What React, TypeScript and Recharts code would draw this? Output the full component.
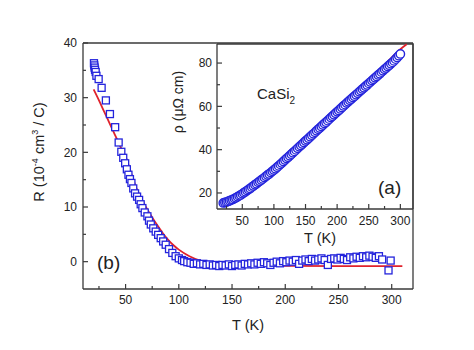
import React from "react"
import { ComposedChart, Scatter, Line, XAxis, YAxis, Label, ReferenceLine } from "recharts"

// main panel (b): Hall coefficient vs temperature
const hallT = [
  20.3, 20.6, 20.9, 21.3, 21.9, 22.6, 24.7, 27.5, 31.5, 35.3, 40.2, 43.5, 46.0, 47.8, 49.6, 51.2,
  52.7, 54.1, 55.5, 57.2, 58.9, 60.8, 62.7, 64.2, 65.8, 68.0, 70.5, 72.0, 73.7, 76.0, 78.3, 80.6,
  83.0, 85.3, 87.7, 90.8, 93.9, 97.0, 100, 103, 105, 108, 111, 114, 117, 120, 123, 126, 129, 132,
  135, 138, 141, 144, 147, 150, 153, 156, 159, 162, 165, 168, 171, 174, 177, 180, 183, 186, 189,
  192, 195, 198, 201, 204, 207, 210, 213, 216, 219, 222, 225, 228, 231, 234, 237, 240, 243, 246,
  249, 252, 255, 258, 261, 264, 267, 270, 273, 276, 279, 282, 285, 288, 291, 297, 299,
]
const hallR = [
  36.3, 35.9, 35.5, 35.1, 34.7, 34.0, 33.4, 31.8, 29.5, 27.0, 24.6, 21.8, 20.1, 19.0, 18.0, 16.9,
  15.9, 15.1, 14.4, 13.4, 12.5, 11.9, 11.3, 10.5, 9.8, 9.0, 8.3, 7.5, 6.8, 6.1, 5.5, 4.9,
  4.3, 3.7, 3.1, 2.3, 1.6, 1.0, 0.6, 0.3, 0.1, -0.1, -0.2, -0.4, -0.3, -0.5, -0.4, -0.6, -0.5, -0.7,
  -0.6, -0.8, -0.6, -0.7, -0.5, -0.8, -0.6, -0.5, -0.7, -0.4, -0.5, -0.3, -0.5, -0.2, -0.4, -0.1, -0.3, -0.6, -0.2,
  0.0, -0.3, 0.1, -0.1, 0.2, 0.0, 0.3, -0.4, 0.2, 0.4, 0.1, 0.5, 0.2, 0.4, 0.6, 0.3, -0.6, 0.5, 0.6,
  0.4, 0.7, 0.5, 0.3, 0.8, 0.6, 0.9, 0.7, 1.0, 0.8, 1.1, 0.9, 0.7, 1.0, 0.4, -1.6, 0.2,
]
const hallFitT = [20, 25, 30, 35, 40, 45, 50, 55, 60, 65, 70, 75, 80, 85, 90, 95, 100, 110, 120, 130, 140, 150, 170, 200, 250, 310]
const hallFitR = [31.5, 29.5, 27.4, 25.3, 23.2, 21.1, 19.2, 16.3, 13.5, 11.5, 9.7, 8.1, 6.6, 5.2, 4.0, 3.0, 2.2, 1.0, 0.2, -0.3, -0.5, -0.6, -0.7, -0.75, -0.8, -0.8]

// inset (a): resistivity vs temperature
const rhoT = [
  20, 22.5, 25, 27.5, 30, 32.5, 35, 37.5, 40, 42.5, 45, 47.5, 50, 52.5, 55, 57.5, 60, 62.5, 65, 67.5,
  70, 72.5, 75, 77.5, 80, 82.5, 85, 87.5, 90, 92.5, 95, 97.5, 100, 102.5, 105, 107.5, 110, 112.5,
  115, 117.5, 120, 122.5, 125, 127.5, 130, 132.5, 135, 137.5, 140, 142.5, 145, 147.5, 150, 152.5,
  155, 157.5, 160, 162.5, 165, 167.5, 170, 172.5, 175, 177.5, 180, 182.5, 185, 187.5, 190, 192.5,
  195, 197.5, 200, 202.5, 205, 207.5, 210, 212.5, 215, 217.5, 220, 222.5, 225, 227.5, 230, 232.5,
  235, 237.5, 240, 242.5, 245, 247.5, 250, 252.5, 255, 257.5, 260, 262.5, 265, 267.5, 270, 272.5,
  275, 277.5, 280, 282.5, 285, 287.5, 290, 292.5, 295, 297.5, 300,
]
const rhoV = [
  15.4, 15.6, 15.8, 16.1, 16.4, 16.7, 17.0, 17.4, 17.8, 18.2, 18.7, 19.1, 19.6, 20.1, 20.6, 21.1, 21.6, 22.1, 22.7, 23.2,
  23.8, 24.3, 24.9, 25.4, 26.0, 26.5, 27.1, 27.7, 28.3, 28.8, 29.4, 30.0, 30.6, 31.2, 31.9, 32.5, 33.2, 33.8,
  34.5, 35.2, 35.9, 36.5, 37.2, 37.9, 38.6, 39.2, 39.9, 40.6, 41.3, 41.9, 42.6, 43.3, 44.0, 44.6,
  45.3, 46.0, 46.7, 47.3, 48.0, 48.7, 49.4, 50.0, 50.7, 51.4, 52.1, 52.7, 53.4, 54.1, 54.8, 55.4,
  56.1, 56.8, 57.5, 58.1, 58.8, 59.5, 60.2, 60.8, 61.5, 62.1, 62.8, 63.4, 64.1, 64.7, 65.4, 66.0,
  66.7, 67.3, 68.0, 68.6, 69.3, 69.9, 70.6, 71.2, 71.9, 72.5, 73.2, 73.8, 74.5, 75.1, 75.8, 76.4,
  77.1, 77.7, 78.4, 79.0, 79.7, 80.3, 81.0, 81.8, 82.6, 83.4, 84.2,
]
const rhoFitT = [22, 30, 40, 50, 60, 70, 80, 90, 100, 120, 140, 160, 180, 200, 220, 240, 260, 280, 300, 310]
const rhoFitV = [14.0, 14.7, 16.0, 17.8, 19.8, 22.0, 24.3, 26.6, 28.9, 34.1, 39.5, 45.0, 50.8, 56.8, 62.8, 68.8, 74.7, 80.6, 86.4, 88.7]

const mainXTicks = [25, 50, 75, 100, 125, 150, 175, 200, 225, 250, 275, 300]
const mainYTicks = [0, 5, 10, 15, 20, 25, 30, 35, 40]
const insetXTicks = [25, 50, 75, 100, 125, 150, 175, 200, 225, 250, 275, 300]
const insetYTicks = [20, 30, 40, 50, 60, 70, 80]

const hallData = hallT.map((T, i) => ({ T, R: hallR[i] }))
const hallFit = hallFitT.map((T, i) => ({ T, R: hallFitR[i] }))
const rhoData = rhoT.map((T, i) => ({ T, rho: rhoV[i] }))
const rhoFit = rhoFitT.map((T, i) => ({ T, rho: rhoFitV[i] }))

const BLUE = "#2424dc"
const RED = "#e0222c"
const AXIS = "#3a3a3a"
const FONT = "'Liberation Sans', Arial, sans-serif"

function BottomTick(props: any) {
  const { x, y, payload, step, base } = props
  const v = payload.value
  const major = v % step === 0
  const axisY = y - 2
  return (
    <g>
      <line x1={x} x2={x} y1={axisY} y2={axisY - (major ? 5 : 3)} stroke={AXIS} strokeWidth={1.2} />
      {major && (
        <text x={x} y={axisY + base} textAnchor="middle" fontSize={12} fontFamily={FONT} fill="#222">
          {v}
        </text>
      )}
    </g>
  )
}

function LeftTick(props: any) {
  const { x, y, payload, step, gap } = props
  const v = payload.value
  const major = v % step === 0
  const axisX = x + 2
  return (
    <g>
      <line x1={axisX} x2={axisX + (major ? 5 : 3)} y1={y} y2={y} stroke={AXIS} strokeWidth={1.2} />
      {major && (
        <text x={axisX - gap} y={y + 4.3} textAnchor="end" fontSize={12} fontFamily={FONT} fill="#222">
          {v}
        </text>
      )}
    </g>
  )
}

function Square(props: any) {
  const { cx, cy } = props
  return <rect x={cx - 3.5} y={cy - 3.5} width={7} height={7} fill="#fff" stroke={BLUE} strokeWidth={1.3} />
}

function Ring(props: any) {
  const { cx, cy } = props
  return <circle cx={cx} cy={cy} r={4.2} fill="#fff" stroke={BLUE} strokeWidth={1.4} />
}

export default function App() {
  const abs: React.CSSProperties = { position: "absolute", left: 0, top: 0 }
  return (
    <div style={{ position: "absolute", left: 0, top: 0, width: 474, height: 350, background: "#fff" }}>
      <div style={abs}>
        <ComposedChart width={474} height={350} margin={{ top: 43, right: 61, left: 43, bottom: 31 }}>
          <XAxis
            type="number"
            dataKey="T"
            domain={[10, 320]}
            ticks={mainXTicks}
            interval={0}
            height={30}
            tickSize={0}
            tickMargin={2}
            tickLine={false}
            axisLine={{ stroke: AXIS, strokeWidth: 1.3 }}
            tick={(p: any) => <BottomTick {...p} step={50} base={14.6} />}
          >
            <Label
              content={(p: any) => (
                <text x={p.viewBox.x + p.viewBox.width / 2} y={p.viewBox.y + 40.5} textAnchor="middle" fontSize={14.5} fontFamily={FONT} fill="#222">
                  T (K)
                </text>
              )}
            />
          </XAxis>
          <YAxis
            type="number"
            dataKey="R"
            domain={[-5, 40]}
            ticks={mainYTicks}
            interval={0}
            width={40}
            tickSize={0}
            tickMargin={2}
            tickLine={false}
            axisLine={{ stroke: AXIS, strokeWidth: 1.3 }}
            tick={(p: any) => <LeftTick {...p} step={10} gap={6} />}
          >
            <Label
              content={() => (
                <text transform="translate(44,152) rotate(-90)" textAnchor="middle" fontSize={14.5} fontFamily={FONT} fill="#222">
                  R (10
                  <tspan dy={-6} fontSize={9}>-4</tspan>
                  <tspan dy={6}> cm</tspan>
                  <tspan dy={-6} fontSize={9}>3</tspan>
                  <tspan dy={6}> / C)</tspan>
                </text>
              )}
            />
          </YAxis>
          <ReferenceLine y={40} stroke={AXIS} strokeWidth={1.3} />
          <ReferenceLine x={320} stroke={AXIS} strokeWidth={1.3} />
          <Scatter data={hallData} dataKey="R" shape={Square} isAnimationActive={false} />
          <Line data={hallFit} dataKey="R" type="monotone" stroke={RED} strokeWidth={1.8} dot={false} isAnimationActive={false} />
        </ComposedChart>
      </div>
      <div style={abs}>
        <ComposedChart width={474} height={350} margin={{ top: 44, right: 61, left: 187, bottom: 116 }}>
          <XAxis
            type="number"
            dataKey="T"
            domain={[10, 320]}
            ticks={insetXTicks}
            interval={0}
            height={25}
            tickSize={0}
            tickMargin={2}
            tickLine={false}
            axisLine={{ stroke: AXIS, strokeWidth: 1.3 }}
            tick={(p: any) => <BottomTick {...p} step={50} base={16} />}
          >
            <Label
              content={(p: any) => (
                <text x={p.viewBox.x + p.viewBox.width / 2 + 5} y={p.viewBox.y + 34} textAnchor="middle" fontSize={14.5} fontFamily={FONT} fill="#222">
                  T (K)
                </text>
              )}
            />
          </XAxis>
          <YAxis
            type="number"
            dataKey="rho"
            domain={[12.6, 88.8]}
            ticks={insetYTicks}
            interval={0}
            width={30}
            tickSize={0}
            tickMargin={2}
            tickLine={false}
            axisLine={{ stroke: AXIS, strokeWidth: 1.3 }}
            tick={(p: any) => <LeftTick {...p} step={20} gap={5} />}
          >
            <Label
              content={() => (
                <text transform="translate(183,102) rotate(-90)" textAnchor="middle" fontSize={14} fontFamily={FONT} fill="#222">
                  ρ (μΩ cm)
                </text>
              )}
            />
          </YAxis>
          <ReferenceLine y={88.8} stroke={AXIS} strokeWidth={1.3} />
          <ReferenceLine x={320} stroke={AXIS} strokeWidth={1.3} />
          <Scatter data={rhoData} dataKey="rho" shape={Ring} isAnimationActive={false} />
          <Line data={rhoFit} dataKey="rho" type="monotone" stroke={RED} strokeWidth={1.8} dot={false} isAnimationActive={false} />
        </ComposedChart>
      </div>
      <svg width={474} height={350} style={{ ...abs, pointerEvents: "none" }}>
        <text x={257} y={99} fontSize={15} fontFamily={FONT} fill="#222">
          CaSi<tspan dy={5} fontSize={10}>2</tspan>
        </text>
        <text x={378} y={194} fontSize={19} fontFamily={FONT} fill="#222">(a)</text>
        <text x={97} y={269} fontSize={19} fontFamily={FONT} fill="#222">(b)</text>
      </svg>
    </div>
  )
}
